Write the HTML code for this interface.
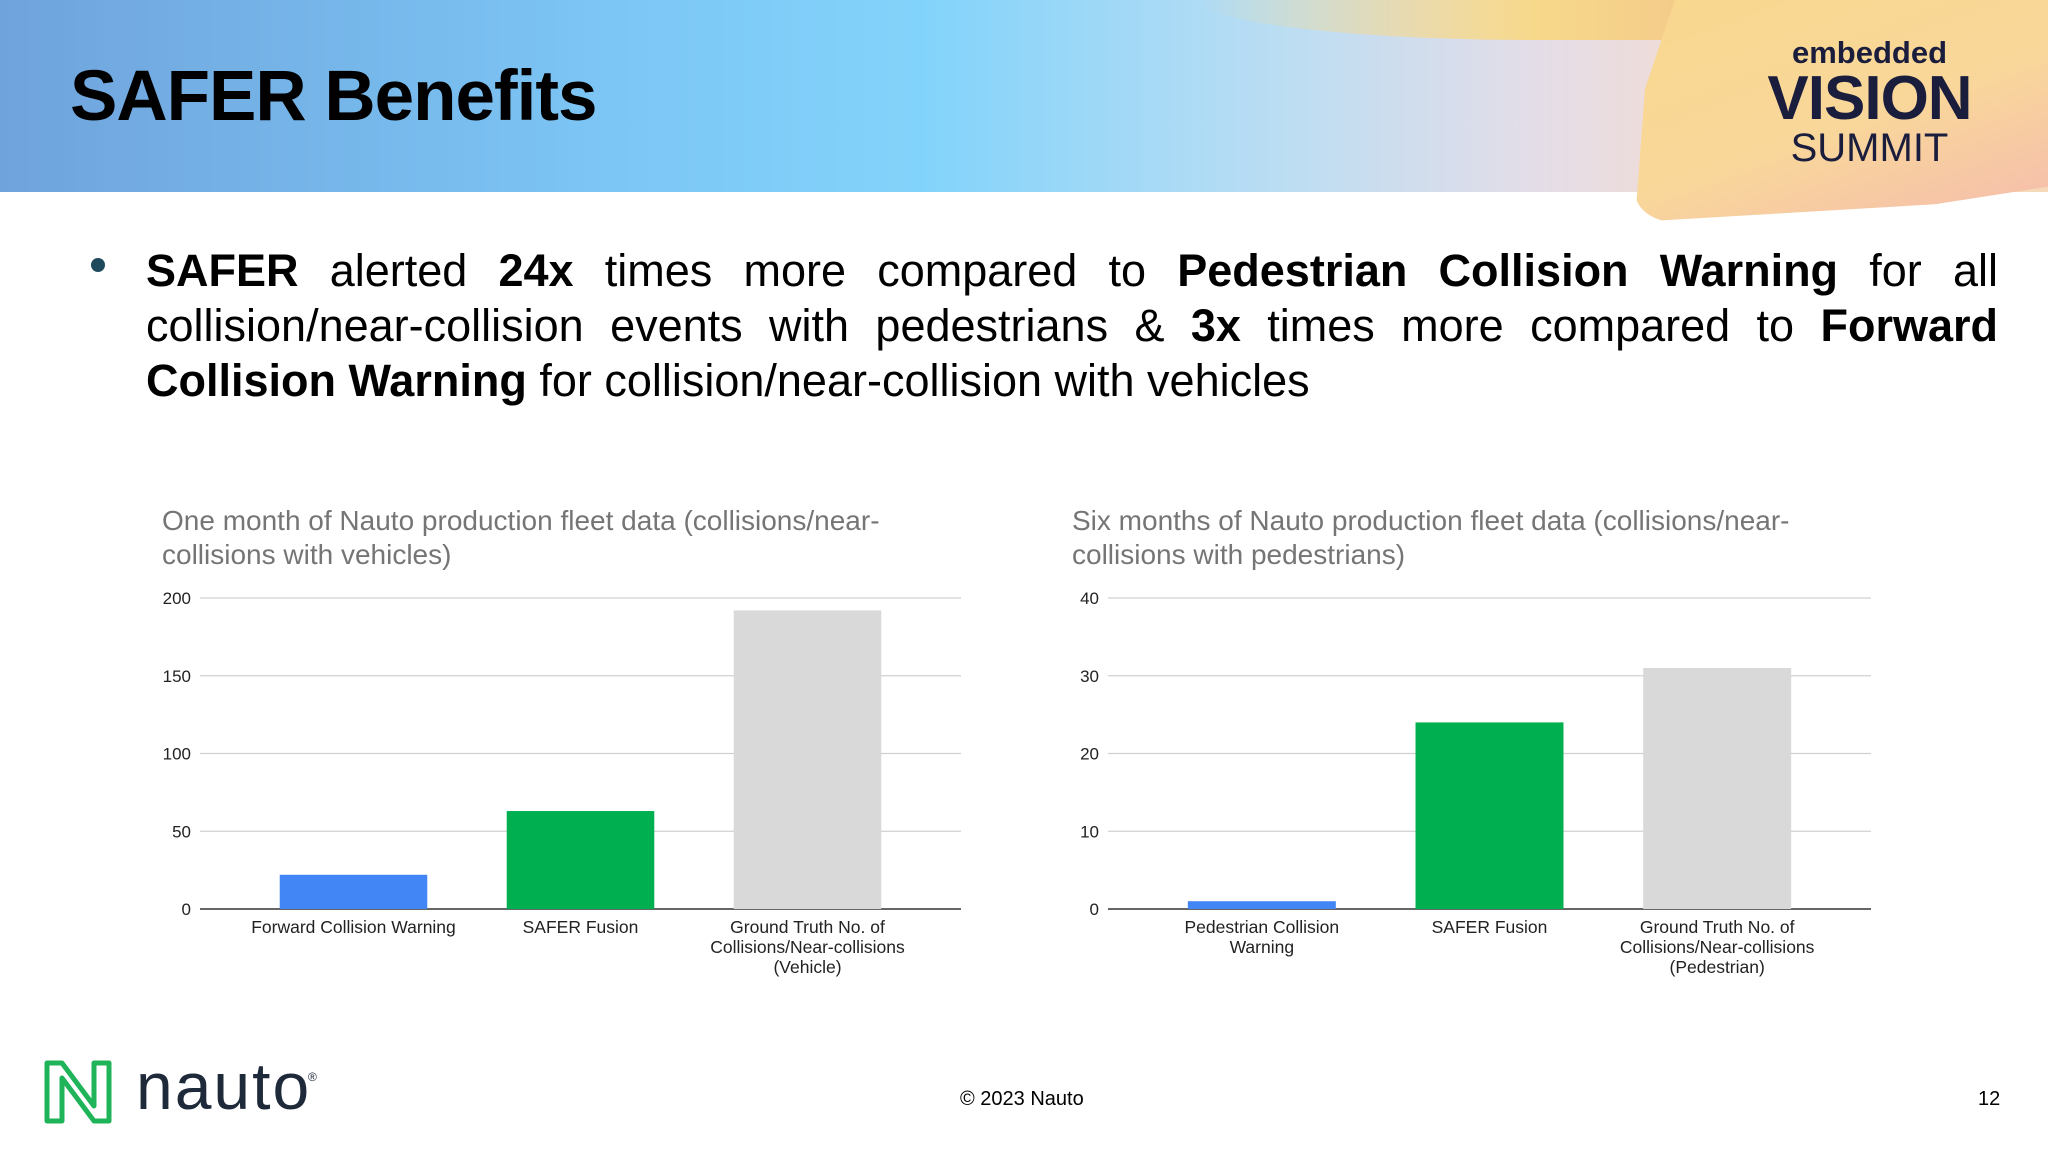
<!DOCTYPE html>
<html><head><meta charset="utf-8">
<style>
body{margin:0;width:2048px;height:1152px;overflow:hidden;background:#fff;font-family:"Liberation Sans",sans-serif;position:relative}
.abs{position:absolute}
#header{left:0;top:0;width:2048px;height:192px;background:linear-gradient(90deg,#6fa3dc 0%,#7cc6f5 30%,#82d3fb 45%,#b9ddf3 62%,#e4dde8 75%,#f4dcd0 85%,#f6d9b8 100%)}
#blob{left:1635px;top:0;width:500px;height:222px;background:linear-gradient(160deg,#f8d88e 0%,#f9d79a 50%,#f6c3a8 80%,#f3b1b0 100%);border-bottom-left-radius:40px 30px;clip-path:polygon(8% 0,100% 0,100% 78%,60% 92%,0 100%,2% 40%)}
#blob2{left:1200px;top:0;width:560px;height:40px;background:linear-gradient(90deg,rgba(250,220,140,0),#f7d98a 60%,#f2c48a);border-bottom-left-radius:60% 100%}
#title{left:70px;top:56px;font-size:71px;font-weight:bold;color:#000;letter-spacing:-1px}
#bullet{left:146px;top:243px;width:1852px;font-size:45px;line-height:55px;text-align:justify;color:#000}
#dot{left:91px;top:258px;width:14px;height:14px;border-radius:50%;background:#1e4a5c}
.ct{font-size:28px;color:#757575;line-height:34px}
#footer-copy{left:960px;top:1088px;font-size:20px;color:#000}
#page-num{left:1978px;top:1088px;font-size:20px;color:#000}
</style></head><body>
<div id="header" class="abs"></div>
<div id="blob2" class="abs"></div>
<div id="blob" class="abs"></div>
<div id="title" class="abs">SAFER Benefits</div>
<div class="abs" style="left:1757px;top:36px;width:225px;text-align:center;color:#1b1d3d">
 <div style="font-size:31px;font-weight:bold;line-height:34px">embedded</div>
 <div style="font-size:62px;font-weight:900;line-height:58px;letter-spacing:-1px">VISION</div>
 <div style="font-size:40px;line-height:40px">SUMMIT</div>
</div>
<div id="dot" class="abs"></div>
<div id="bullet" class="abs"><b>SAFER</b> alerted <b>24x</b> times more compared to <b>Pedestrian Collision Warning</b> for all collision/near-collision events with pedestrians &amp; <b>3x</b> times more compared to <b>Forward Collision Warning</b> for collision/near-collision with vehicles</div>

<div class="abs ct" style="left:162px;top:504px">One month of Nauto production fleet data (collisions/near-<br>collisions with vehicles)</div>
<div class="abs ct" style="left:1072px;top:504px">Six months of Nauto production fleet data (collisions/near-<br>collisions with pedestrians)</div>

<svg class="abs" style="left:0;top:0" width="2048" height="1152" id="charts"></svg>

<div class="abs" style="left:42px;top:1058px">
 <svg width="72" height="68" viewBox="0 0 72 68"><path d="M5 5 V63 H20 V20 L52 63 H67 V5 H52 V48 L20 5 Z" fill="none" stroke="#1fb45a" stroke-width="5" stroke-linejoin="round"/></svg>
 <span style="position:absolute;left:94px;top:-10px;font-size:66px;color:#1e2a3a;letter-spacing:2px">nauto</span>
 <span style="position:absolute;left:266px;top:12px;font-size:12px;color:#1e2a3a">®</span>
</div>
<div id="footer-copy" class="abs">© 2023 Nauto</div>
<div id="page-num" class="abs">12</div>

<script>
const cats1 = ["Forward Collision Warning", "SAFER Fusion", "Ground Truth No. of|Collisions/Near-collisions|(Vehicle)"];
const vals1 = [22, 63, 192];
const ticks1 = [0, 50, 100, 150, 200];
const cats2 = ["Pedestrian Collision|Warning", "SAFER Fusion", "Ground Truth No. of|Collisions/Near-collisions|(Pedestrian)"];
const vals2 = [1, 24, 31];
const ticks2 = [0, 10, 20, 30, 40];
const colors = ["#4285f4", "#00b050", "#d9d9d9"];
const NS = "http://www.w3.org/2000/svg";
const svg = document.getElementById("charts");
function mk(tag, attrs){const e=document.createElementNS(NS,tag);for(const k in attrs)e.setAttribute(k,attrs[k]);svg.appendChild(e);return e;}
function drawChart(id, x0, x1, cats, vals, ticks){
  const yTop=598, yBot=909, max=ticks[ticks.length-1];
  const y = v => yBot - (v/max)*(yBot-yTop);
  const pad=40, band=(x1-x0-2*pad)/cats.length, bw=band*0.65;
  ticks.forEach(t=>{
    const l=mk("line",{x1:x0,x2:x1,y1:y(t),y2:y(t),stroke:t===0?"#333":"#d0d0d0","stroke-width":t===0?1.5:1.3});
    
    
    const tx=mk("text",{x:x0-9,y:y(t)+6,"text-anchor":"end","font-size":17,fill:"#222","font-family":"Liberation Sans, sans-serif"});
    tx.textContent=t;
    
    
  });
  vals.forEach((v,i)=>{
    const cx=x0+pad+band*(i+0.5);
    const r=mk("rect",{x:cx-bw/2,y:y(v),width:bw,height:yBot-y(v),fill:colors[i]});
    
    
    cats[i].split("|").forEach((s,j)=>{
      const t=mk("text",{x:cx,y:933+j*20,"text-anchor":"middle","font-size":17.5,fill:"#222","font-family":"Liberation Sans, sans-serif"});
      t.textContent=s;
      
      
    });
  });
}
drawChart("chart1", 200, 961, cats1, vals1, ticks1);
drawChart("chart2", 1108, 1871, cats2, vals2, ticks2);
</script>
</body></html>
